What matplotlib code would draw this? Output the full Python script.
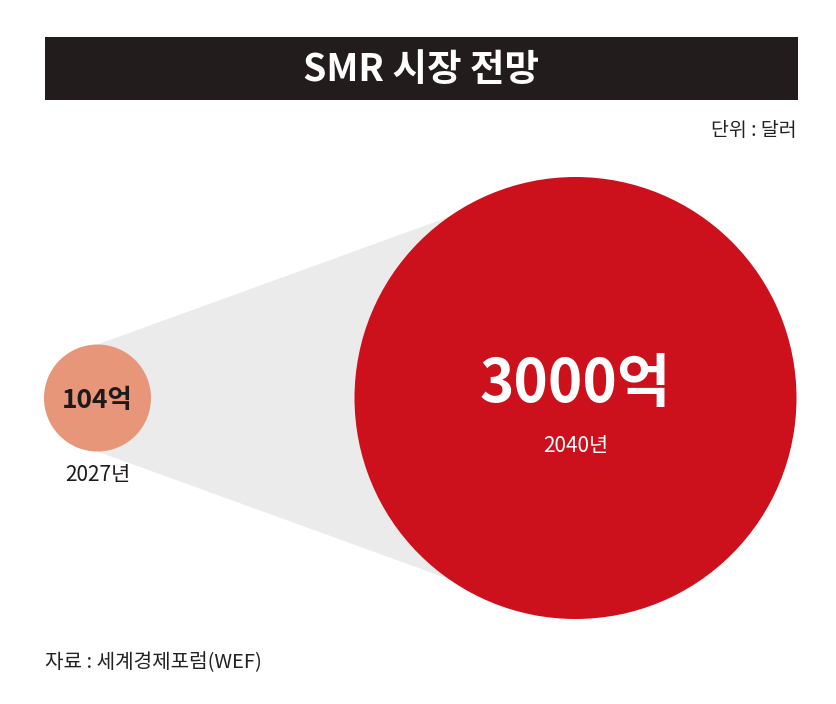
import matplotlib.pyplot as plt
from matplotlib.patches import Circle, Polygon, Rectangle

plt.rcParams['font.family'] = ['Noto Sans CJK KR', 'DejaVu Sans']

# data (unit: 억 달러)
years = ['2027년', '2040년']
values = [104, 3000]
title = 'SMR 시장 전망'
unit_note = '단위 : 달러'
source_note = '자료 : 세계경제포럼(WEF)'

W, H = 837, 704
fig = plt.figure(figsize=(W / 100, H / 100), dpi=100)
ax = fig.add_axes([0, 0, 1, 1])
ax.set_xlim(0, W)
ax.set_ylim(H, 0)
ax.set_aspect('equal')
ax.axis('off')

# title bar
ax.add_patch(Rectangle((45, 37), 753, 63, facecolor='#231c1c', edgecolor='none'))
ax.text(421.5, 69, title, color='white', fontsize=27, fontweight='bold',
        ha='center', va='center')
ax.text(797, 131, unit_note, color='#222222', fontsize=14, ha='right', va='center')

# circles layout
cy = 398
small = dict(x=97.5, r=53.5, color='#e8967a')
big = dict(x=575.5, r=221, color='#cc111c')

# grey cone between the circles
cone = [
    (small['x'], cy - small['r']),
    (big['x'] - 0.35 * big['r'], cy - 0.9 * big['r']),
    (big['x'] - 0.35 * big['r'], cy + 0.9 * big['r']),
    (small['x'], cy + small['r']),
]
ax.add_patch(Polygon(cone, closed=True, facecolor='#ebebeb', edgecolor='none'))

ax.add_patch(Circle((big['x'], cy), big['r'], facecolor=big['color'], edgecolor='none'))
ax.add_patch(Circle((small['x'], cy), small['r'], facecolor=small['color'], edgecolor='none'))

# labels
ax.text(small['x'], cy + 2, f'{values[0]}억', color='#1e1a1a', fontsize=19,
        fontweight='bold', ha='center', va='center')
ax.text(small['x'], 475, years[0], color='#1e1a1a', fontsize=15,
        ha='center', va='center')

ax.text(big['x'], 385, f'{values[1]}억', color='white', fontsize=42,
        fontweight='bold', ha='center', va='center')
ax.text(big['x'], 446, years[1], color='white', fontsize=15,
        ha='center', va='center')

ax.text(45, 663, source_note, color='#222222', fontsize=14.5, ha='left', va='center')

fig.savefig('out.png', dpi=100, facecolor='white')
